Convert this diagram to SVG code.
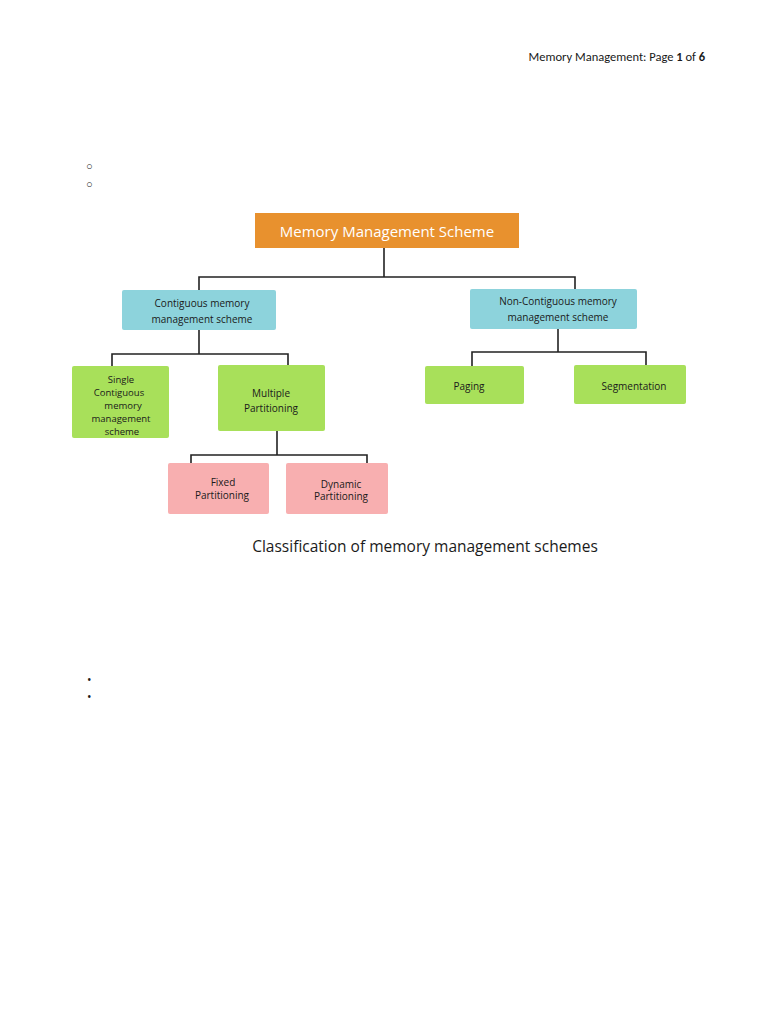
<svg xmlns="http://www.w3.org/2000/svg" width="768" height="1024" viewBox="0 0 768 1024">
<style>
text{font-family:"Open Sans","Liberation Sans",sans-serif;fill:#1a1a1a}
.t{font-size:10px;text-anchor:middle}
.s{font-size:9.5px;text-anchor:middle}
.or{fill:#E8912E}.bl{fill:#8DD3DC}.gr{fill:#A8E05A}.pk{fill:#F8AFB0}
.c{fill:none;stroke:#222;stroke-width:1.6}
</style>
<rect width="768" height="1024" fill="#fff"/>
<text x="705" y="61" font-size="12.5" text-anchor="end" style="font-family:Carlito,'Liberation Sans',sans-serif">Memory Management: Page <tspan font-weight="bold">1</tspan> of <tspan font-weight="bold">6</tspan></text>
<text x="86" y="170" font-size="11">○</text>
<text x="86" y="188" font-size="11">○</text>
<g id="connectors">
<path class="c" d="M384 248V277M199 290V277H575V289"/>
<path class="c" d="M199 330V354M112 366V354H288V365"/>
<path class="c" d="M558 329V352M472 366V352H646V365"/>
<path class="c" d="M277 431V455M191 463V455H367V463"/>
</g>
<g id="root"><rect class="or" x="255" y="213" width="264" height="35"/><text x="387" y="237" font-size="15" text-anchor="middle" style="fill:#fff">Memory Management Scheme</text></g>
<g id="contig"><rect class="bl" x="122" y="290" width="154" height="40" rx="2"/><text class="t" x="202" y="307">Contiguous memory</text><text class="t" x="202" y="323">management scheme</text></g>
<g id="noncontig"><rect class="bl" x="470" y="289" width="167" height="40" rx="2"/><text class="t" x="558" y="305">Non-Contiguous memory</text><text class="t" x="558" y="321">management scheme</text></g>
<g id="single"><rect class="gr" x="72" y="366" width="97" height="72" rx="2"/><text class="s" x="121" y="383">Single</text><text class="s" x="119" y="396">Contiguous</text><text class="s" x="123" y="409">memory</text><text class="s" x="121" y="422">management</text><text class="s" x="122" y="435">scheme</text></g>
<g id="multiple"><rect class="gr" x="218" y="365" width="107" height="66" rx="2"/><text class="t" x="271" y="397">Multiple</text><text class="t" x="271" y="412">Partitioning</text></g>
<g id="paging"><rect class="gr" x="425" y="366" width="99" height="38" rx="2"/><text class="t" x="469" y="390">Paging</text></g>
<g id="segmentation"><rect class="gr" x="574" y="365" width="112" height="39" rx="2"/><text class="t" x="634" y="390">Segmentation</text></g>
<g id="fixed"><rect class="pk" x="168" y="463" width="101" height="51" rx="2"/><text class="t" x="223" y="486">Fixed</text><text class="t" x="222" y="499">Partitioning</text></g>
<g id="dynamic"><rect class="pk" x="286" y="463" width="102" height="51" rx="2"/><text class="t" x="341" y="488">Dynamic</text><text class="t" x="341" y="500">Partitioning</text></g>
<text x="425" y="552" font-size="15.5" text-anchor="middle">Classification of memory management schemes</text>
<text x="87" y="684" font-size="12">•</text>
<text x="87" y="701" font-size="12">•</text>
</svg>
